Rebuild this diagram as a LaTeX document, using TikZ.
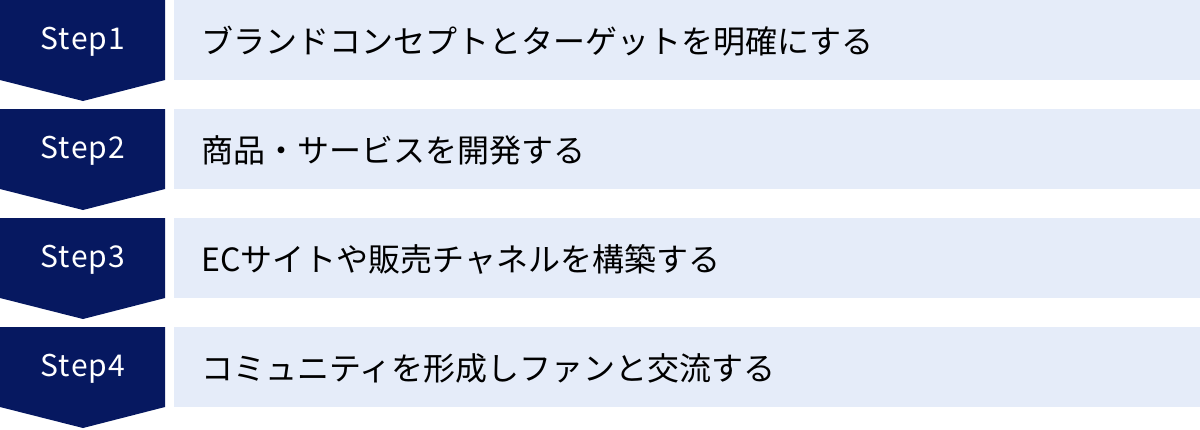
\documentclass[tikz,border=0pt]{standalone}
\usepackage{fontspec}
\setmainfont{Noto Sans CJK JP}
\newfontfamily\steplatin[LetterSpace=4]{Noto Sans CJK JP}
\usepackage{tikz}
\definecolor{stepnavy}{RGB}{6,24,96}
\definecolor{boxblue}{RGB}{229,236,249}

\begin{document}
\begin{tikzpicture}[x=1pt, y=-1pt,
    stepshape/.style={fill=stepnavy},
    stepbar/.style={fill=boxblue},
    steplabel/.style={text=white, inner sep=0pt, font=\steplatin\fontsize{30}{36}\selectfont},
    stepinfo/.style={anchor=west, inner sep=0pt, font=\fontsize{32}{38}\selectfont}]

    \useasboundingbox (0,0) rectangle (1200,429);

    % step arrows
    \fill[stepshape] (0,0) -- (165,0) -- (165,80) -- (83,101) -- (0,80) -- cycle;
    \fill[stepshape] (0,109) -- (165,109) -- (165,189) -- (83,210) -- (0,189) -- cycle;
    \fill[stepshape] (0,218) -- (165,218) -- (165,298) -- (83,319) -- (0,298) -- cycle;
    \fill[stepshape] (0,327) -- (165,327) -- (165,407) -- (83,428) -- (0,407) -- cycle;

    % bars
    \fill[stepbar] (174,0) rectangle (1200,80);
    \fill[stepbar] (174,109) rectangle (1200,189);
    \fill[stepbar] (174,218) rectangle (1200,298);
    \fill[stepbar] (174,327) rectangle (1200,407);

    \node[steplabel] (s1) at (83,42) {Step1};
    \node[steplabel] (s2) at (83,151) {Step2};
    \node[steplabel] (s3) at (83,260) {Step3};
    \node[steplabel] (s4) at (83,369) {Step4};

    \node[stepinfo] (t1) at (201,41) {ブランドコンセプトとターゲットを明確にする};
    \node[stepinfo] (t2) at (201,150) {商品・サービスを開発する};
    \node[stepinfo] (t3) at (201,259) {ECサイトや販売チャネルを構築する};
    \node[stepinfo] (t4) at (201,368) {コミュニティを形成しファンと交流する};

\end{tikzpicture}
\end{document}
